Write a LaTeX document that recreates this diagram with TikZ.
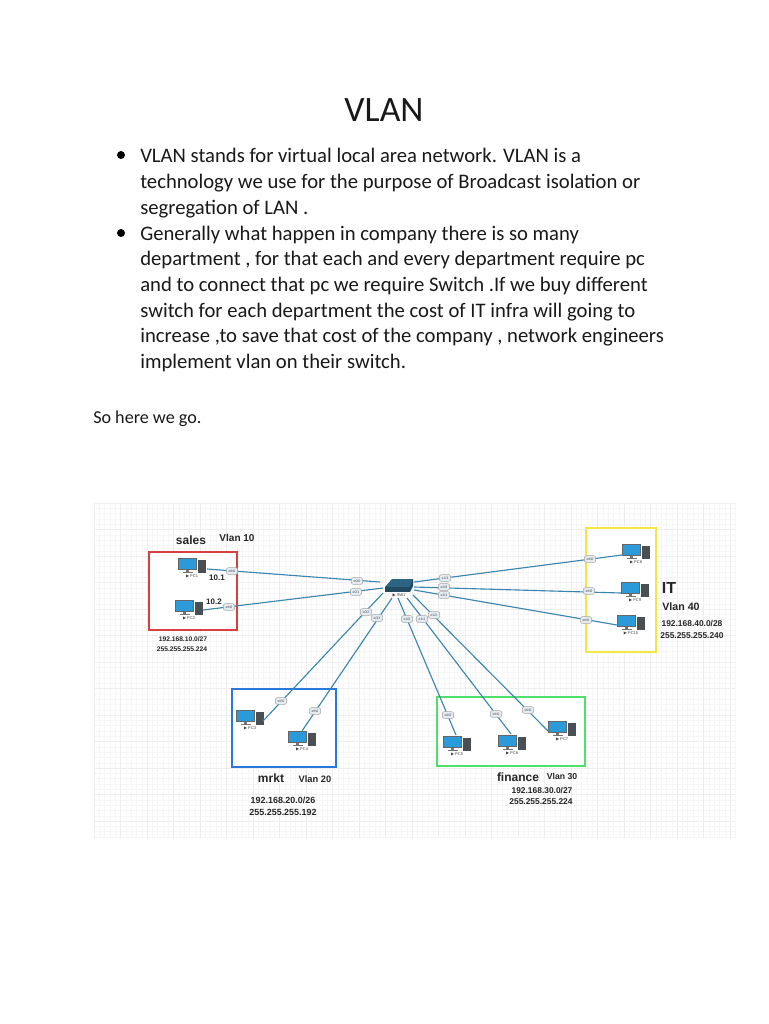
\documentclass[tikz,border=0pt]{standalone}
\usepackage{fontspec}
\setmainfont{Carlito}
\newfontfamily\labelfont{Liberation Sans}
\newfontfamily\symfont{DejaVu Sans}
\definecolor{linkblue}{HTML}{3B86AE}
\definecolor{screenblue}{HTML}{2A9AD8}
\definecolor{gridgray}{HTML}{F6F6F6}
\definecolor{gridmajor}{HTML}{EEEEEE}
\definecolor{towergray}{HTML}{4A4F54}
\definecolor{portfill}{HTML}{E4ECF2}
\definecolor{boxred}{HTML}{D8403F}
\definecolor{boxblue}{HTML}{2B78DC}
\definecolor{boxgreen}{HTML}{4FE06A}
\definecolor{boxyellow}{HTML}{F5E642}
\tikzset{
  x=0.75pt,y=-0.75pt,
  bodyline/.style={anchor=base west,inner sep=0pt,font=\fontsize{15.5}{18}\selectfont,text=black!90},
  bulletdot/.style={circle,fill=black,inner sep=0pt,minimum size=6pt},
  link/.style={draw=linkblue,line width=0.85pt},
  port/.style={draw=black!35,fill=portfill,rounded corners=1.5pt,inner sep=0pt,minimum width=8.5pt,minimum height=5pt,font=\labelfont\fontsize{2.6}{3}\selectfont,text=black!70},
  pcname/.style={font=\labelfont\fontsize{3}{4}\selectfont,text=black!75,inner sep=0pt},
  pcbody/.style={inner sep=0pt,minimum width=24pt,minimum height=12pt},
  grouplabel/.style={font=\labelfont\bfseries\fontsize{9}{10}\selectfont,text=black!85,inner sep=0pt},
  vlanlabel/.style={font=\labelfont\bfseries\fontsize{7}{8}\selectfont,text=black!85,inner sep=0pt},
  netlabel/.style={font=\labelfont\bfseries\fontsize{5}{6}\selectfont,text=black!85,inner sep=0pt},
  netwide/.style={font=\labelfont\bfseries\fontsize{6.3}{7}\selectfont,text=black!85,inner sep=0pt},
  groupbox/.style={line width=0.85pt,fill=white},
}
% name, monitor left, monitor top, label
\newcommand{\pcicon}[4]{%
  \fill[screenblue] (#2,#3) rectangle ++(18.5,11.5);
  \draw[black!60,line width=0.3pt] (#2,#3) rectangle ++(18.5,11.5);
  \fill[black!55] (#2+8,#3+11.5) rectangle ++(3,3);
  \fill[black!55] (#2+4.5,#3+14) rectangle ++(10,1);
  \fill[towergray] (#2+20,#3+2) rectangle ++(7.5,13);
  \node[pcbody] (#1) at (#2+13.7,#3+8) {};
  \node[pcname] (#1name) at (#2+14,#3+18.5) {{\symfont ▶} #4};
}
\begin{document}
\begin{tikzpicture}
\useasboundingbox (0,0) rectangle (768,1024);
\fill[white] (0,0) rectangle (768,1024);
% text
\node[anchor=base,inner sep=0pt,font=\fontsize{26.8}{30}\selectfont,text=black!90] (title) at (384,121) {VLAN};
\node[bulletdot] (b1) at (121,155) {};
\node[bodyline] (l1) at (140,162) {VLAN stands for virtual local area network. VLAN is a};
\node[bodyline] (l2) at (140,188) {technology we use for the purpose of Broadcast isolation or};
\node[bodyline] (l3) at (140,214) {segregation of LAN .};
\node[bulletdot] (b2) at (121,233) {};
\node[bodyline] (l4) at (140,240) {Generally what happen in company there is so many};
\node[bodyline] (l5) at (140,265) {department , for that each and every department require pc};
\node[bodyline] (l6) at (140,291) {and to connect that pc we require Switch .If we buy different};
\node[bodyline] (l7) at (140,317) {switch for each department the cost of IT infra will going to};
\node[bodyline] (l8) at (140,342) {increase ,to save that cost of the company , network engineers};
\node[bodyline] (l9) at (140,368) {implement vlan on their switch.};
\node[bodyline,font=\fontsize{13.6}{16}\selectfont] (l10) at (93,423) {So here we go.};
% canvas
\foreach \i in {0,1,...,121} \draw[gridgray,line width=0.3pt] (94+\i*5.3,503) -- (94+\i*5.3,838);
\foreach \j in {0,1,...,63} \draw[gridgray,line width=0.3pt] (94,503+\j*5.3) -- (735,503+\j*5.3);
\foreach \i in {0,1,...,24} \draw[gridmajor,line width=0.35pt] (94+\i*26.5,503) -- (94+\i*26.5,838);
\foreach \j in {0,1,...,12} \draw[gridmajor,line width=0.35pt] (94,503+\j*26.5) -- (735,503+\j*26.5);
% group boxes
\draw[groupbox,draw=boxred] (149,552) rectangle (237,630);
\draw[groupbox,draw=boxyellow] (586,528) rectangle (656,652);
\draw[groupbox,draw=boxblue] (232,689) rectangle (336,767);
\draw[groupbox,draw=boxgreen] (437,697) rectangle (585,766);
% pcs
\pcicon{pc1}{178}{558}{PC1}
\pcicon{pc2}{175}{600}{PC2}
\pcicon{pc3}{236}{710}{PC3}
\pcicon{pc4}{288}{731}{PC4}
\pcicon{pc5}{443}{736}{PC5}
\pcicon{pc6}{498}{735}{PC6}
\pcicon{pc7}{548}{721}{PC7}
\pcicon{pc8}{622}{544}{PC8}
\pcicon{pc9}{621}{582}{PC9}
\pcicon{pc10}{617}{615}{PC10}
% switch
\fill[linkblue!75!black] (385,587) -- (392,579) -- (413,579) -- (412,587) -- cycle;
\fill[linkblue!55!black] (385,587) rectangle (410,592);
\fill[linkblue!55!black] (410,592) -- (413,586) -- (413,579) -- (410,587) -- cycle;
\node[inner sep=0pt,minimum width=21pt,minimum height=11pt] (sw) at (399,585) {};
\node[pcname] (swname) at (399,595.5) {{\symfont ▶} SW1};
% connector ends on the switch
\coordinate (s1) at (380,582);
\coordinate (s2) at (383,588);
\coordinate (s3) at (383,593);
\coordinate (s4) at (392,598);
\coordinate (s5) at (398,598);
\coordinate (s6) at (407,598);
\coordinate (s7) at (413,595);
\coordinate (s8) at (414,582);
\coordinate (s9) at (414,587);
\coordinate (s10) at (414,590);
% ends on the pcs
\coordinate (p1) at (207,569);
\coordinate (p2) at (203,610);
\coordinate (p3) at (263,721);
\coordinate (p4) at (302,731);
\coordinate (p5) at (456,735);
\coordinate (p6) at (511,734);
\coordinate (p7) at (548,731);
\coordinate (p8) at (622,555);
\coordinate (p9) at (621,593);
\coordinate (p10) at (617,625);
% connectors
\draw[link] (p1) -- (s1);
\draw[link] (p2) -- (s2);
\draw[link] (p3) -- (s3);
\draw[link] (p4) -- (s4);
\draw[link] (p5) -- (s5);
\draw[link] (p6) -- (s6);
\draw[link] (p7) -- (s7);
\draw[link] (p8) -- (s8);
\draw[link] (p9) -- (s9);
\draw[link] (p10) -- (s10);
% ports
\node[port] (e1) at (232,571) {eth0};
\node[port] (e2) at (229,607) {eth0};
\node[port] (e3) at (281,701) {eth0};
\node[port] (e4) at (315,711) {eth0};
\node[port] (e5) at (448,715) {eth0};
\node[port] (e6) at (496,714) {eth0};
\node[port] (e7) at (528,710) {eth0};
\node[port] (e8) at (590,559) {eth0};
\node[port] (e9) at (589,591) {eth0};
\node[port] (e10) at (586,620) {eth0};
\node[port] (q1) at (357,581) {e0/0};
\node[port] (q2) at (356,592) {e0/1};
\node[port] (q3) at (366,612) {e0/2};
\node[port] (q4) at (377,618) {e0/3};
\node[port] (q5) at (407,619) {e1/0};
\node[port] (q6) at (422,619) {e1/1};
\node[port] (q7) at (434,615) {e1/2};
\node[port] (q8) at (445,578) {e1/3};
\node[port] (q9) at (444,587) {e2/0};
\node[port] (q10) at (444,595) {e2/1};
% labels
\node[grouplabel] (sales) at (191,540) {sales};
\node[vlanlabel,font=\labelfont\bfseries\fontsize{7.5}{8}\selectfont] (v10) at (237,538) {Vlan 10};
\node[netlabel,font=\labelfont\bfseries\fontsize{6}{7}\selectfont] (h1) at (217,578) {10.1};
\node[netlabel,font=\labelfont\bfseries\fontsize{6}{7}\selectfont] (h2) at (214,602) {10.2};
\node[netlabel] (n1) at (183,639) {192.168.10.0/27};
\node[netlabel] (m1) at (182,649) {255.255.255.224};
\node[grouplabel] (mrkt) at (271,778) {mrkt};
\node[vlanlabel] (v20) at (315,779) {Vlan 20};
\node[netwide,font=\labelfont\bfseries\fontsize{6.7}{8}\selectfont] (n2) at (283,800) {192.168.20.0/26};
\node[netwide,font=\labelfont\bfseries\fontsize{6.7}{8}\selectfont] (m2) at (283,812) {255.255.255.192};
\node[grouplabel] (finance) at (518,777) {finance};
\node[vlanlabel,font=\labelfont\bfseries\fontsize{6.5}{8}\selectfont] (v30) at (562,776) {Vlan 30};
\node[netwide] (n3) at (542,791) {192.168.30.0/27};
\node[netwide] (m3) at (541,802) {255.255.255.224};
\node[font=\labelfont\bfseries\fontsize{12}{14}\selectfont,text=black!85,inner sep=0pt] (it) at (669,588) {IT};
\node[vlanlabel,font=\labelfont\bfseries\fontsize{8}{9}\selectfont] (v40) at (681,607) {Vlan 40};
\node[netwide] (n4) at (692,624) {192.168.40.0/28};
\node[netwide] (m4) at (692,636) {255.255.255.240};
\end{tikzpicture}
\end{document}
